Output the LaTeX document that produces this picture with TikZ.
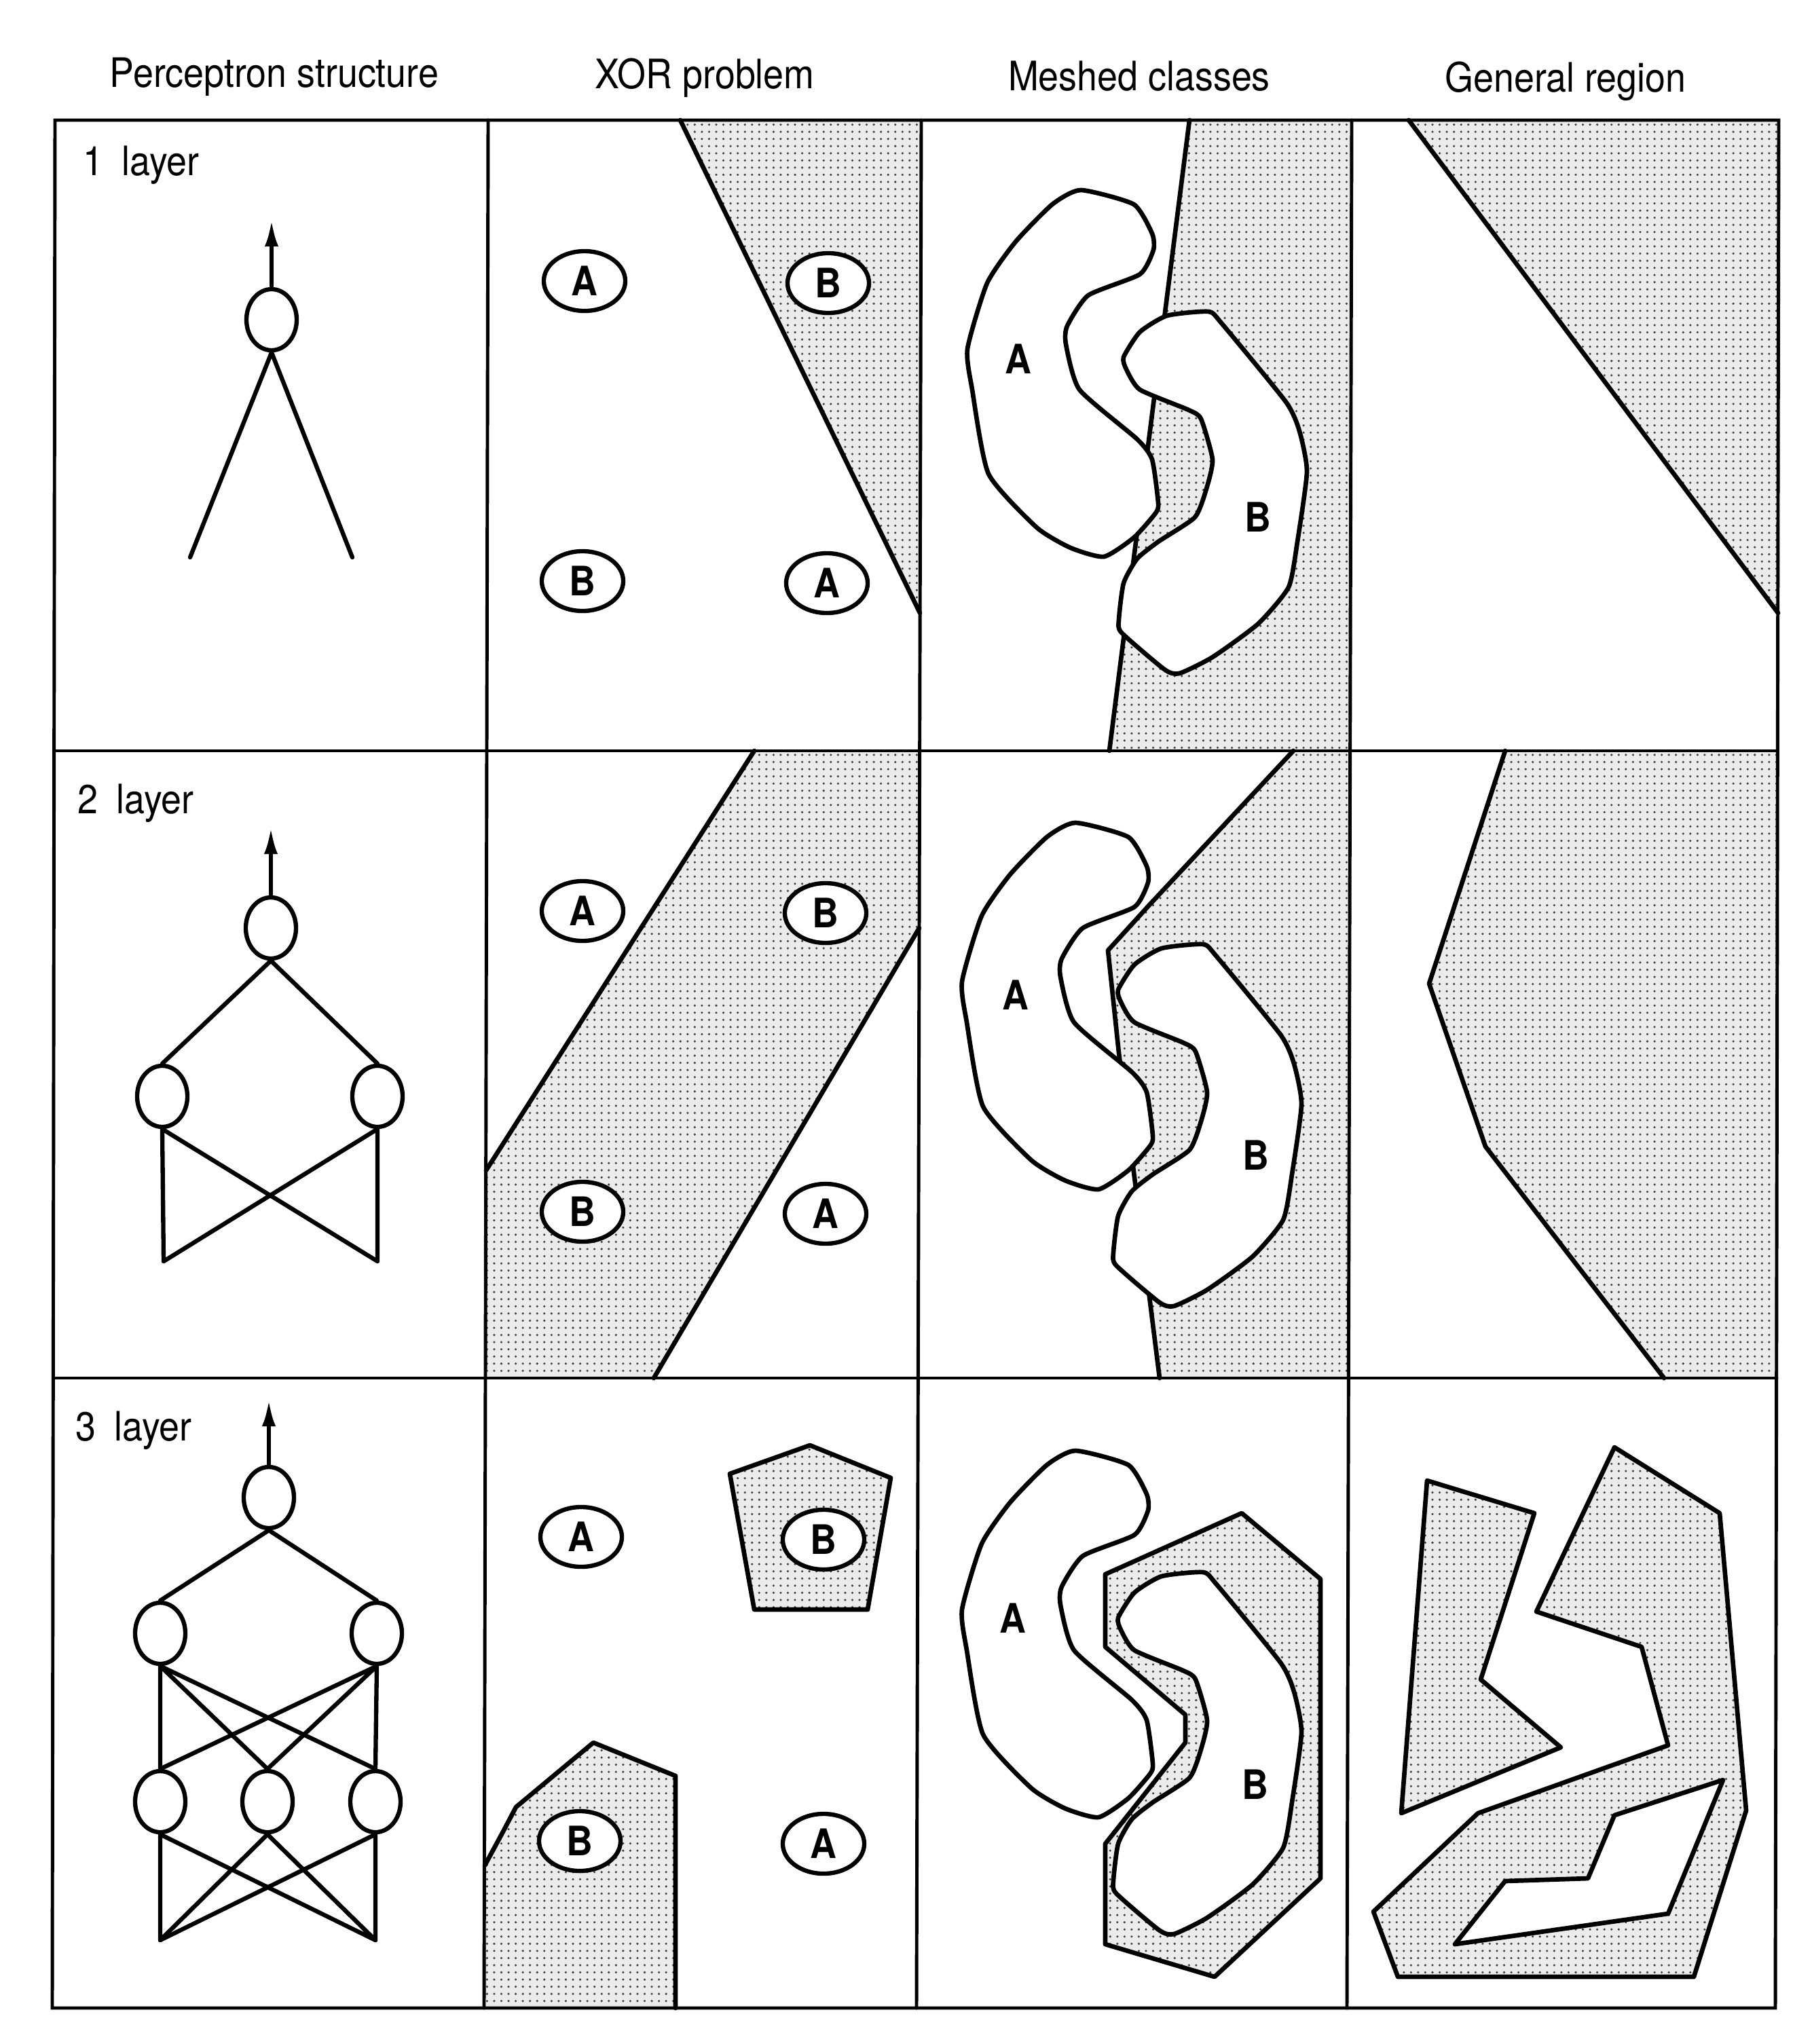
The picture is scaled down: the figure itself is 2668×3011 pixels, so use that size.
\documentclass[tikz,border=0pt]{standalone}
\usepackage{fontspec}
\usepackage{graphicx}
\setmainfont{TeX Gyre Heros}
\setsansfont{TeX Gyre Heros}
\usetikzlibrary{shapes.geometric,patterns,arrows.meta}

\newcommand{\schrift}{\fontsize{17}{20}\selectfont\sffamily}
\newcommand{\schmal}[1]{\scalebox{0.9}[1]{#1}}

\tikzset{
	tableline/.style={line width=1.4pt},
	outline/.style={line width=1.9pt, line join=round},
	stipple/.style={preaction={fill=black!8}, pattern=dots, pattern color=black!75},
	netz/.style={line width=1.8pt},
	pfeil/.style={line width=1.8pt, -{Latex[length=4mm,width=2mm]}},
	neuron/.style={ellipse, draw, line width=1.8pt, minimum width=0.74cm, minimum height=0.9cm, inner sep=0pt},
	cls/.style={ellipse, draw, fill=white, line width=1.8pt, minimum width=1.2cm, minimum height=0.88cm, inner sep=0pt, font=\schrift\bfseries},
	txt/.style={inner sep=0pt, font=\schrift, anchor=base},
	buchstabe/.style={inner sep=0pt, font=\schrift\bfseries},
}

% Klasse A und Klasse B (Zeile 1, verschoben um #1)
\newcommand{\formA}[1]{\draw[outline, fill=white, shift={#1}] plot[smooth cycle, tension=0.35] coordinates {(1592,280) (1670,301) (1697,344) (1699,368) (1679,404) (1603,435) (1572,480) (1570,507) (1590,574) (1675,647) (1697,677) (1706,741) (1702,756) (1670,792) (1626,820) (1577,807) (1527,777) (1456,698) (1432,574) (1425,514) (1454,417) (1496,356) (1550,301)};}
\newcommand{\formB}[1]{\draw[outline, fill=white, shift={#1}] plot[smooth cycle, tension=0.35] coordinates {(1719,465) (1780,459) (1800,477) (1894,592) (1914,635) (1925,695) (1911,798) (1898,865) (1853,919) (1786,968) (1737,992) (1715,986) (1652,932) (1648,913) (1655,859) (1675,823) (1706,798) (1760,762) (1777,720) (1786,677) (1769,617) (1751,604) (1679,574) (1659,544) (1655,526) (1679,489)};}

\begin{document}
\begin{tikzpicture}[x=0.01cm, y=-0.01cm, line cap=round]
		\useasboundingbox (0,0) rectangle (2668,3011);
		% Kopfzeile
		\node[txt] (kopf1) at (404,128) {\schmal{Perceptron structure}};
		\node[txt] (kopf2) at (1038,130) {\schmal{XOR problem}};
		\node[txt] (kopf3) at (1678,133) {\schmal{Meshed classes}};
		\node[txt] (kopf4) at (2306,135) {\schmal{General region}};
		\node[txt, anchor=base west] (titel1) at (122,258) {\schmal{1\enspace layer}};
		\node[txt, anchor=base west] (titel2) at (114,1198) {\schmal{2\enspace layer}};
		\node[txt, anchor=base west] (titel3) at (111,2122) {\schmal{3\enspace layer}};

		% XOR Flaechen
		\fill[stipple] (1002,177) -- (1357,177) -- (1355,903) -- cycle;
		\draw[outline] (1002,177) -- (1355,903);
		\fill[stipple] (1111,1106) -- (1355,1106) -- (1354,1367) -- (963,2030) -- (715,2030) -- (716,1724) -- cycle;
		\draw[outline] (1111,1106) -- (716,1724);
		\draw[outline] (1354,1367) -- (963,2030);
		\draw[stipple, outline] (1193,2129) -- (1312,2177) -- (1278,2371) -- (1111,2371) -- (1075,2171) -- cycle;
		\fill[stipple] (714,2748) -- (740,2700) -- (760,2662) -- (874,2567) -- (995,2616) -- (995,2958) -- (713,2958) -- cycle;
		\draw[outline] (714,2748) -- (740,2700) -- (760,2662) -- (874,2567) -- (995,2616) -- (995,2958);

		% Meshed classes Flaechen
		\fill[stipple] (1752,177) -- (1991,177) -- (1989,1106) -- (1634,1106) -- cycle;
		\draw[outline] (1752,177) -- (1634,1106);
		\fill[stipple] (1905,1106) -- (1693,1333) -- (1632,1400) -- (1648,1551) -- (1708,2030) -- (1987,2030) -- (1989,1106) -- cycle;
		\draw[outline] (1905,1106) -- (1693,1333) -- (1632,1400) -- (1648,1551) -- (1708,2030);
		\draw[stipple, outline] (1628,2319) -- (1829,2229) -- (1945,2326) -- (1945,2767) -- (1789,2912) -- (1628,2864) -- (1628,2716) -- (1746,2567) -- (1746,2526) -- (1628,2426) -- cycle;
		\formA{(0,0)}
		\formB{(0,0)}
		\formA{(-8,932)}
		\formB{(-8,932)}
		\formA{(-8,1857)}
		\formB{(-8,1857)}
		\node[buchstabe] (mA1) at (1500,529) {\schmal{A}};
		\node[buchstabe] (mB1) at (1853,762) {\schmal{B}};
		\node[buchstabe] (mA2) at (1496,1466) {\schmal{A}};
		\node[buchstabe] (mB2) at (1850,1702) {\schmal{B}};
		\node[buchstabe] (mA3) at (1492,2384) {\schmal{A}};
		\node[buchstabe] (mB3) at (1849,2629) {\schmal{B}};

		% General region Flaechen
		\fill[stipple] (2075,177) -- (2620,177) -- (2619,903) -- cycle;
		\draw[outline] (2075,177) -- (2619,903);
		\fill[stipple] (2217,1106) -- (2105,1449) -- (2188,1689) -- (2451,2030) -- (2617,2030) -- (2618,1106) -- cycle;
		\draw[outline] (2217,1106) -- (2105,1449) -- (2188,1689) -- (2451,2030);
		\draw[stipple, outline] (2102,2181) -- (2260,2229) -- (2181,2474) -- (2299,2574) -- (2064,2671) -- cycle;
		\draw[stipple, outline] (2378,2132) -- (2533,2229) -- (2572,2667) -- (2495,2912) -- (2059,2912) -- (2023,2816) -- (2177,2671) -- (2457,2571) -- (2418,2426) -- (2263,2374) -- cycle;
		\draw[outline, fill=white] (2538,2622) -- (2457,2819) -- (2143,2864) -- (2217,2771) -- (2339,2767) -- (2378,2674) -- cycle;

		% XOR Klassen
		\node[cls] (x1a) at (861,414) {\schmal{A}};
		\node[cls] (x1b) at (1220,417) {\schmal{B}};
		\node[cls] (x1c) at (858,856) {\schmal{B}};
		\node[cls] (x1d) at (1218,859) {\schmal{A}};
		\node[cls] (x2a) at (858,1342) {\schmal{A}};
		\node[cls] (x2b) at (1216,1345) {\schmal{B}};
		\node[cls] (x2c) at (858,1785) {\schmal{B}};
		\node[cls] (x2d) at (1216,1788) {\schmal{A}};
		\node[cls] (x3a) at (856,2264) {\schmal{A}};
		\node[cls] (x3b) at (1213,2268) {\schmal{B}};
		\node[cls] (x3c) at (854,2712) {\schmal{B}};
		\node[cls] (x3d) at (1213,2716) {\schmal{A}};

		% Perzeptron 1 Schicht
		\node[neuron] (o1) at (400,471) {};
		\coordinate (a1) at (400,323);
		\coordinate (e11) at (280,821);
		\coordinate (e12) at (519,821);
		\draw[pfeil] (o1) -- (a1);
		\draw[netz] (o1.south) -- (e11) (o1.south) -- (e12);

		% Perzeptron 2 Schichten
		\node[neuron] (o2) at (399,1367) {};
		\node[neuron] (h21) at (239,1615) {};
		\node[neuron] (h22) at (556,1615) {};
		\coordinate (a2) at (399,1218);
		\coordinate (e21) at (241,1858);
		\coordinate (e22) at (556,1858);
		\draw[pfeil] (o2) -- (a2);
		\draw[netz] (o2.south) -- (h21.north) (o2.south) -- (h22.north);
		\draw[netz] (h21.south) -- (e21) (h21.south) -- (e22) (h22.south) -- (e21) (h22.south) -- (e22);

		% Perzeptron 3 Schichten
		\node[neuron] (o3) at (396,2206) {};
		\node[neuron] (h31) at (236,2406) {};
		\node[neuron] (h32) at (555,2406) {};
		\node[neuron] (g31) at (236,2654) {};
		\node[neuron] (g32) at (394,2654) {};
		\node[neuron] (g33) at (553,2654) {};
		\coordinate (a3) at (396,2061);
		\coordinate (e31) at (236,2858);
		\coordinate (e32) at (553,2858);
		\draw[pfeil] (o3) -- (a3);
		\draw[netz] (o3.south) -- (h31.north) (o3.south) -- (h32.north);
		\draw[netz] (h31.south) -- (g31.north) (h31.south) -- (g32.north) (h31.south) -- (g33.north);
		\draw[netz] (h32.south) -- (g31.north) (h32.south) -- (g32.north) (h32.south) -- (g33.north);
		\draw[netz] (g31.south) -- (e31) (g31.south) -- (e32) (g32.south) -- (e31) (g32.south) -- (e32);
		\draw[netz] (g33.south) -- (e31) (g33.south) -- (e32);

		% Tabelle
		\draw[tableline] (81,177) -- (2620,177) -- (2615,2958) -- (77,2958) -- cycle;
		\draw[tableline] (719,177) -- (713,2958);
		\draw[tableline] (1357,177) -- (1350,2958);
		\draw[tableline] (1991,177) -- (1984,2958);
		\draw[tableline] (80,1106) -- (2618,1106);
		\draw[tableline] (79,2030) -- (2617,2030);
\end{tikzpicture}
\end{document}
